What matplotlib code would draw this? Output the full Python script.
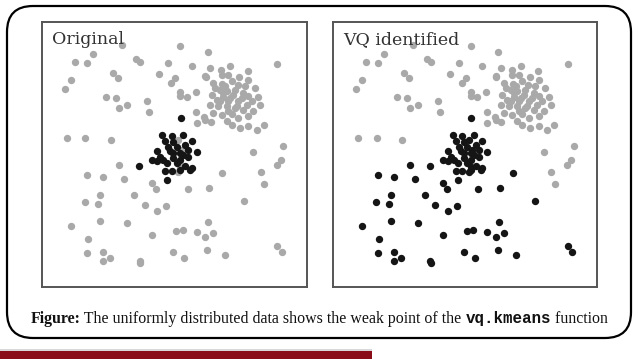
import numpy as np
import matplotlib
matplotlib.use("Agg")
import matplotlib.pyplot as plt
from matplotlib.patches import FancyBboxPatch, Rectangle

# uniform background points that VQ puts with the upper-right cluster
bg_upper_x = [30.2, 52.2, 62.6, 19.2, 12.6, 17.0, 35.6, 37.1, 47.8, 56.6, 88.9, 11.1, 8.6, 26.8, 28.7,
              44.4, 50.3, 48.7, 63.5, 61.8, 52.2, 54.7, 52.2, 58.1, 24.3, 28.1, 29.3, 32.3, 39.6, 40.5,
              58.2, 58.5, 61.4, 63.8, 83.9, 9.4, 16.5, 26.2, 91.2, 79.9, 90.2, 88.7, 82.6, 84.0]
bg_upper_y = [91.4, 91.2, 88.9, 88.0, 84.9, 84.7, 86.0, 85.1, 84.7, 83.6, 84.2, 78.2, 74.8, 80.7, 78.8,
              80.3, 78.8, 76.9, 82.6, 79.4, 73.8, 71.9, 72.1, 73.8, 71.9, 71.2, 67.7, 68.7, 70.2, 66.2,
              66.2, 62.0, 64.3, 62.4, 61.2, 56.4, 56.1, 55.4, 53.2, 51.1, 47.9, 46.0, 43.3, 38.8]

# uniform background points that VQ puts with the central cluster
bg_lower_x = [68.2, 76.5, 29.2, 17.0, 23.0, 31.1, 41.5, 43.2, 55.1, 63.1, 34.8, 22.0, 16.4, 21.4, 38.8,
              46.9, 43.4, 10.9, 22.0, 32.1, 62.9, 50.7, 53.2, 58.5, 61.6, 64.8, 41.5, 17.4, 88.9, 90.6,
              17.0, 23.3, 23.3, 25.8, 36.9, 37.1, 49.7, 53.8, 62.5, 69.3, 51.6, 52.8, 52.2, 51.6]
bg_lower_y = [42.9, 32.5, 46.0, 42.2, 41.6, 40.6, 39.3, 36.8, 36.8, 37.5, 34.7, 34.7, 32.2, 31.3, 30.9,
              30.6, 28.8, 23.0, 24.8, 24.0, 24.6, 21.1, 21.4, 20.8, 18.9, 20.4, 19.5, 18.0, 15.5, 13.0,
              12.6, 13.2, 9.8, 10.7, 9.8, 8.8, 13.0, 11.0, 13.9, 12.0, 55.5, 51.7, 45.4, 43.5]

# upper-right dense cluster
clus_a_x = [67.7, 71.1, 77.7, 61.6, 67.9, 70.4, 74.6, 78.0, 64.8, 68.2, 71.7, 74.0, 80.5, 64.1, 67.3,
            69.8, 72.9, 76.1, 78.0, 81.7, 66.0, 68.5, 71.1, 74.2, 77.3, 82.4, 63.5, 66.7, 69.8, 72.9,
            76.1, 79.9, 64.8, 67.9, 71.7, 74.2, 78.0, 61.6, 69.8, 71.7, 74.8, 78.0, 81.1, 68.5, 70.4,
            67.3, 72.3, 75.5, 65.4, 69.2, 73.6, 70.4, 76.7, 79.2]
clus_a_y = [82.1, 83.3, 81.7, 79.6, 79.9, 80.2, 79.2, 78.3, 77.0, 76.7, 77.7, 76.4, 75.1, 72.6, 74.5,
            73.9, 74.5, 73.3, 72.0, 71.6, 70.7, 71.6, 71.4, 70.1, 68.8, 68.8, 68.8, 68.2, 68.2, 67.6,
            66.9, 66.3, 65.7, 65.0, 65.3, 63.8, 64.4, 63.2, 62.5, 61.3, 60.2, 60.6, 59.4, 73.3, 70.1,
            70.1, 72.6, 71.4, 75.1, 75.8, 68.2, 66.3, 75.8, 70.1]

# central dense cluster
clus_b_x = [52.4, 45.3, 49.0, 53.4, 46.5, 49.7, 56.6, 47.8, 50.9, 54.1, 48.4, 52.2, 55.3, 58.5, 43.4,
            44.6, 41.5, 43.4, 45.9, 49.7, 52.2, 55.3, 47.2, 50.9, 54.1, 56.6, 36.7, 46.5, 49.0, 52.2,
            56.0, 47.2, 49.7, 53.4]
clus_b_y = [63.8, 57.5, 57.1, 57.5, 55.0, 54.6, 55.0, 53.0, 53.0, 53.7, 51.2, 50.5, 51.8, 50.8, 51.2,
            49.2, 48.0, 47.4, 48.0, 48.6, 48.0, 49.2, 46.7, 46.7, 45.5, 44.8, 45.5, 43.6, 43.6, 44.2,
            44.2, 40.2, 50.5, 49.9]

grey = '#a9a9a9'
dark = '#151515'
ms = 28

fig = plt.figure(figsize=(6.38, 3.59), dpi=100)

ax1 = fig.add_axes([0.0654, 0.2014, 0.4154, 0.7365])
ax2 = fig.add_axes([0.5219, 0.2014, 0.4138, 0.7365])

ax1.scatter(bg_upper_x + bg_lower_x, bg_upper_y + bg_lower_y, s=ms, c=grey, lw=0)
ax1.scatter(clus_a_x, clus_a_y, s=ms, c=grey, lw=0)
ax1.scatter(clus_b_x, clus_b_y, s=ms, c=dark, lw=0)

ax2.scatter(bg_upper_x + clus_a_x, bg_upper_y + clus_a_y, s=ms, c=grey, lw=0)
ax2.scatter(bg_lower_x + clus_b_x, bg_lower_y + clus_b_y, s=ms, c=dark, lw=0)

for ax, label in [(ax1, 'Original'), (ax2, 'VQ identified')]:
    ax.set_xlim(0, 100)
    ax.set_ylim(0, 100)
    ax.set_xticks([])
    ax.set_yticks([])
    for sp in ax.spines.values():
        sp.set_color('#555555')
        sp.set_linewidth(1.4)
    ax.text(0.04, 0.918, label, transform=ax.transAxes, family='DejaVu Serif',
            fontsize=12.5, color='#333333', va='baseline', ha='left', zorder=5)

# rounded frame around the slide content
frame = FancyBboxPatch((0.07, 0.21), 6.24, 3.32, boxstyle='round,pad=0,rounding_size=0.26',
                       transform=fig.dpi_scale_trans, fill=False, ec='black', lw=1.6)
fig.patches.append(frame)

# red bar at bottom
fig.patches.append(Rectangle((0, 0), 3.72, 0.085, transform=fig.dpi_scale_trans,
                             color='#8a0c18', lw=0))
fig.patches.append(Rectangle((0, 0.085), 3.72, 0.012, transform=fig.dpi_scale_trans,
                             color='#d8d8d8', lw=0))

# caption with mixed fonts
parts = [('Figure:', dict(family='Liberation Serif', weight='bold')),
         (' The uniformly distributed data shows the weak point of the ', dict(family='Liberation Serif')),
         ('vq.kmeans', dict(family='Liberation Mono', weight='bold')),
         (' function', dict(family='Liberation Serif'))]
cap_y = (359 - 323) / 359
texts = [fig.text(0, cap_y, s, fontsize=11.4, va='baseline', ha='left', color='#111111', **kw)
         for s, kw in parts]
fig.canvas.draw()
r = fig.canvas.get_renderer()
widths = [t.get_window_extent(r).width / 638 for t in texts]
x = 0.5 - sum(widths) / 2
for t, w in zip(texts, widths):
    t.set_x(x)
    x += w

fig.savefig('out.png', dpi=100)
